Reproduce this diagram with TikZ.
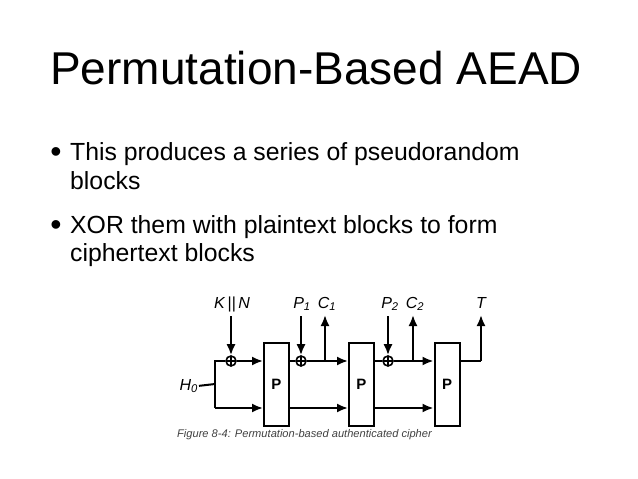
\documentclass[tikz,border=0pt]{standalone}
\usepackage{fontspec}
\setmainfont{Liberation Sans}
\usetikzlibrary{arrows.meta}
\begin{document}
\begin{tikzpicture}[x=1pt,y=-1pt,
  pbox/.style={draw,line width=2pt,minimum width=25pt,minimum height=83pt,inner sep=0pt,font=\bfseries\fontsize{15}{15}\selectfont},
  xr/.style={draw,circle,line width=1.6pt,minimum size=10pt,inner sep=0pt,path picture={\draw[line width=1.6pt] (path picture bounding box.north)--(path picture bounding box.south) (path picture bounding box.west)--(path picture bounding box.east);}},
  ln/.style={line width=2pt},
  ar/.style={line width=2pt,-{Latex[length=11pt,width=9pt]}},
  lab/.style={font=\itshape\fontsize{16}{16}\selectfont,anchor=base},
  btxt/.style={anchor=base west,font=\fontsize{24.8}{29}\selectfont,inner sep=0pt}]
\useasboundingbox (0,0) rectangle (638,479);
\node[anchor=base west,inner sep=0pt,font=\fontsize{46}{46}\selectfont] (title) at (50,84) {Permutation-Based AEAD};
\node[inner sep=0pt,font=\fontsize{32}{32}\selectfont,anchor=base] (b1) at (56,162) {•};
\node[inner sep=0pt,font=\fontsize{32}{32}\selectfont,anchor=base] (b2) at (56,235) {•};
\node[btxt] (t1) at (70,160) {This produces a series of pseudorandom};
\node[btxt] (t1b) at (70,189) {blocks};
\node[btxt] (t2) at (70,233) {XOR them with plaintext blocks to form};
\node[btxt] (t2b) at (70,261) {ciphertext blocks};
% boxes
\node[pbox] (p1) at (276.5,384.5) {P};
\node[pbox] (p2) at (361.5,384.5) {P};
\node[pbox] (p3) at (447,384.5) {P};
\node[xr] (x1) at (231,361) {};
\node[xr] (x2) at (301,361) {};
\node[xr] (x3) at (388,361) {};
\coordinate (j) at (215,384);
\coordinate (jt) at (215,361);
\coordinate (jb) at (215,408);
\node[lab,anchor=base east,inner sep=1pt] (h0) at (199,390) {H\textsubscript{0}};
\node[lab] (kn) at (232,308) {K\,||\,N};
\node[lab] (pl1) at (302,308) {P\textsubscript{1}};
\node[lab] (cl1) at (327,308) {C\textsubscript{1}};
\node[lab] (pl2) at (390,308) {P\textsubscript{2}};
\node[lab] (cl2) at (415,308) {C\textsubscript{2}};
\node[lab] (tl) at (481,308) {T};
\coordinate (c1) at (325,361);
\coordinate (c2) at (413,361);
\coordinate (tt) at (481,361);
\draw[ln] (h0.east) -- (j);
\draw[ln] (jb) -- (jt) -- (x1);
\draw[ar] (x1) -- (p1.west|-x1);
\draw[ar] (jb) -- (p1.west|-jb);
\draw[ar] (x2) -- (p2.west|-x2);
\draw[ln] (p1.east|-x2) -- (x2);
\draw[ar] (p1.east|-jb) -- (p2.west|-jb);
\draw[ln] (p2.east|-x3) -- (x3);
\draw[ar] (x3) -- (p3.west|-x3);
\draw[ar] (p2.east|-jb) -- (p3.west|-jb);
\draw[ar] (231,316) -- (x1);
\draw[ar] (301,316) -- (x2);
\draw[ar] (388,316) -- (x3);
\draw[ar] (c1) -- (325,315);
\draw[ar] (c2) -- (413,315);
\draw[ln] (p3.east|-tt) -- (tt);
\draw[ar] (tt) -- (481,315);
\node[anchor=base west,inner sep=0pt,font=\itshape\fontsize{11.1}{11.1}\selectfont,text=black!75] (cap) at (177,437) {Figure 8-4: Permutation-based authenticated cipher};
\end{tikzpicture}
\end{document}
